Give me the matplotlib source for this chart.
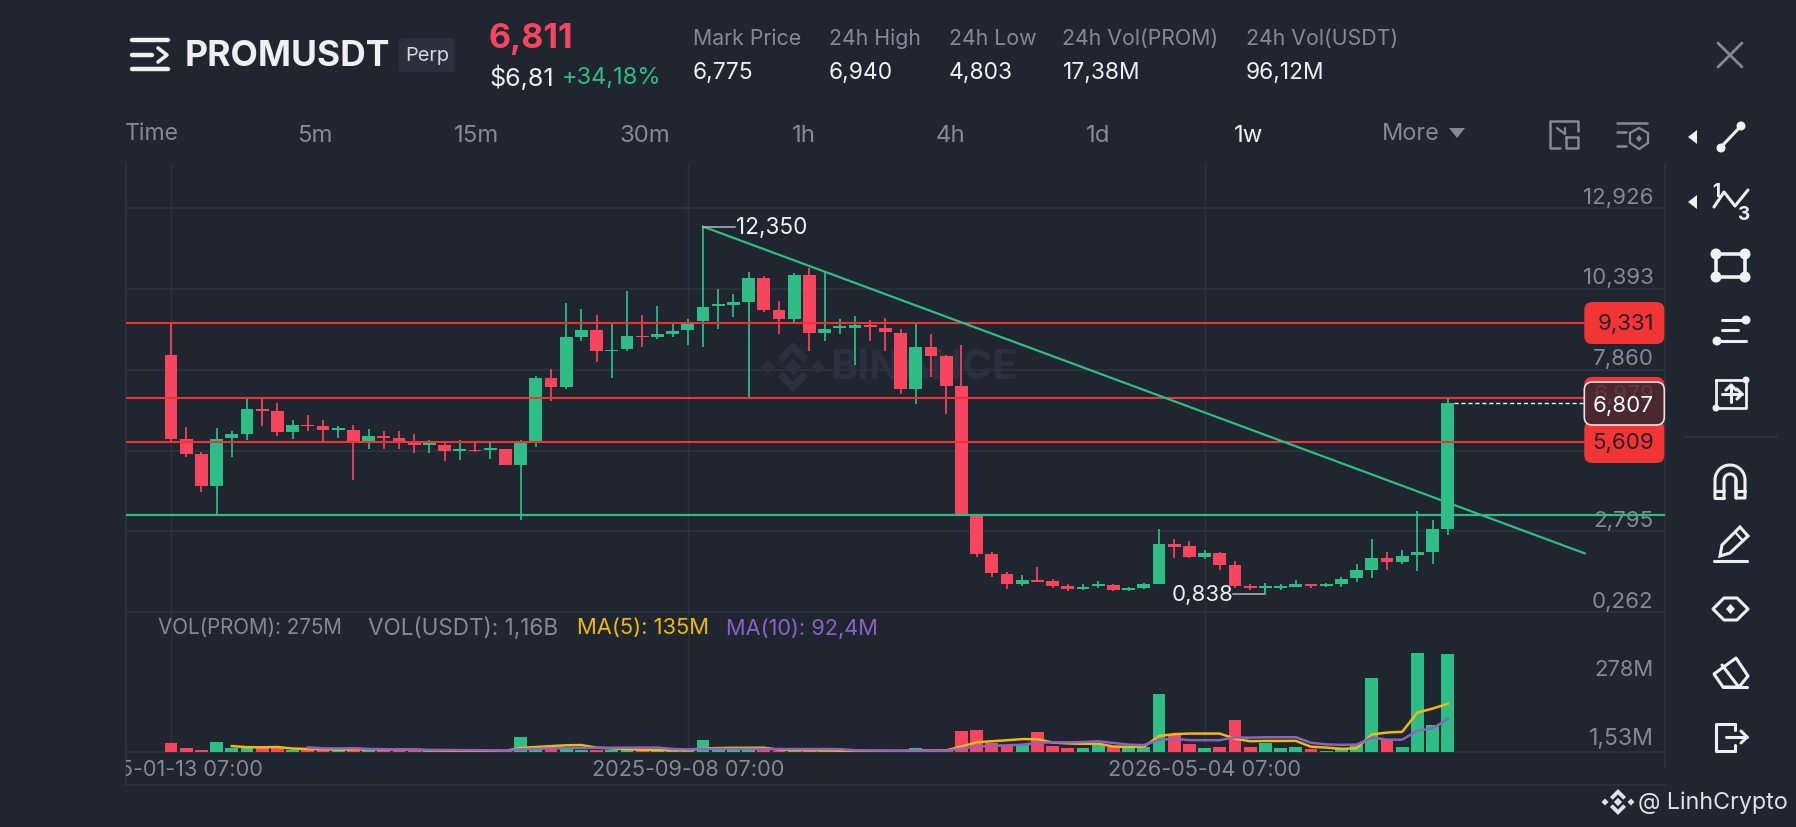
import numpy as np
import matplotlib
matplotlib.use("Agg")
import matplotlib.pyplot as plt
from matplotlib.patches import FancyBboxPatch, Polygon, Circle
from matplotlib.lines import Line2D

plt.rcParams['font.family'] = ['Inter', 'Noto Sans', 'DejaVu Sans']

W, H = 1796, 828
BG = '#1f2630'; GRID = '#2c323d'; GREEN = '#2ebd85'; RED = '#f8455f'; LINE_RED = '#f03434'
GRAY = '#858b96'; WHITE = '#eef0f2'; YELLOW = '#f0b90b'; PURPLE = '#8a63c4'

# ---- data ----
opens = [8.31,5.69,5.21,4.23,5.71,5.84,6.62,6.56,5.91,6.14,6.10,5.97,5.98,5.63,5.79,5.71,5.58,5.51,5.50,5.32,5.36,5.35,5.37,4.88,5.61,7.59,
         7.32,8.89,9.12,8.44,8.50,8.93,8.88,8.98,9.11,9.38,9.85,9.89,10.00,10.75,9.73,9.44,10.84,9.03,9.16,9.18,9.25,9.17,9.03,7.25,
         8.57,8.29,7.34,3.29,2.08,1.47,1.15,1.27,1.24,1.09,0.98,1.08,1.11,0.96,1.02,1.15,2.40,
         2.35,2.00,2.11,1.73,1.10,1.03,1.02,1.07,1.14,1.09,1.14,1.33,1.60,1.97,1.84,2.06,2.14,2.87]
highs = [9.32,6.07,5.28,6.03,5.94,6.94,6.97,6.81,6.30,6.45,6.30,6.10,6.13,6.02,5.94,5.95,5.84,5.67,5.58,5.67,5.58,5.57,5.39,5.66,7.67,7.88,
         9.97,9.77,9.58,9.37,10.34,9.58,9.85,9.36,9.45,12.35,10.40,10.23,10.92,10.80,10.02,10.91,11.06,10.94,9.46,9.54,9.43,9.50,9.13,9.29,
         8.98,8.33,8.63,3.29,2.15,1.53,1.44,1.67,1.30,1.16,1.16,1.23,1.16,1.04,1.19,2.87,2.57,
         2.51,2.20,2.15,1.88,1.14,1.17,1.14,1.27,1.15,1.17,1.36,1.78,2.57,2.16,2.20,3.45,3.15,6.94]
lows = [5.61,5.12,4.02,3.34,5.12,5.66,6.11,5.80,5.69,5.94,5.61,5.72,4.42,5.38,5.37,5.37,5.25,5.25,4.99,5.04,5.27,5.07,4.88,3.16,5.45,6.88,
        7.26,8.77,8.10,7.62,8.46,8.57,8.82,8.88,8.64,8.57,9.14,9.51,7.02,9.66,8.97,9.36,8.46,8.76,8.97,8.01,8.76,8.45,7.11,6.80,
        7.64,6.47,3.32,2.01,1.38,1.00,1.10,1.21,1.03,0.94,0.97,1.01,0.93,0.92,0.99,1.14,1.96,
        1.97,1.93,1.60,1.03,0.97,0.84,0.96,1.06,1.01,1.07,1.07,1.21,1.33,1.59,1.78,1.57,1.79,2.68]
closes = [5.70,5.22,4.23,5.69,5.84,6.62,6.56,5.91,6.14,6.09,5.97,6.03,5.61,5.79,5.72,5.63,5.51,5.57,5.31,5.37,5.31,5.41,4.88,5.58,7.59,7.32,
          8.88,9.12,8.45,8.49,8.93,8.88,8.98,9.09,9.37,9.84,9.91,9.99,10.74,9.74,9.44,10.84,9.03,9.15,9.22,9.25,9.19,9.05,7.25,8.57,
          8.29,7.35,3.32,2.09,1.48,1.16,1.27,1.21,1.09,0.98,1.07,1.14,0.95,1.01,1.14,2.40,2.32,
          2.00,2.11,1.74,1.10,1.02,1.09,1.09,1.14,1.08,1.14,1.32,1.59,1.96,1.85,2.04,2.14,2.86,6.81]
volumes = [25,12,5.6,29,11,10,10,10,7,5.6,5.6,5.6,13,7,5,4.2,3.4,3.4,3.4,2.8,2.8,2.8,4.2,43,17,15,15,7,7,5.6,5.6,4.8,4.2,4.2,4.2,34,8.4,7,5.6,5.6,
           4.2,4.2,4.2,4.2,2.8,2.8,2.8,2.8,3.4,10,3.4,3.4,58,61,25,17,20,55,16,12,12,22,14,12,13,163,48,22,12,13,90,14,26,12,14,7.6,2,9.2,19,208,34,13,278,75,275]
ma5 = [16.5,13.5,13.1,14,9.6,8.5,7.6,6.8,7.4,7.4,7.2,7,6.5,4.6,3.9,3.4,3.2,3,3.2,11.1,14,16.4,18.8,19.4,12.2,9.9,8,6,5.4,4.9,4.6,10.3,11,11.6,11.8,12.1,
       6.2,5.3,4.8,4.5,3.9,3.6,3.4,3.1,2.9,4.4,4.5,4.5,15.6,27.2,30.2,32.9,36.2,35.6,26.6,24,23,23.4,15.2,14.4,14.6,44.8,50,51.6,51.6,51.6,37,30.2,31,31,31.2,
       14.7,12.3,9,10.4,49.2,54.4,56.6,110.4,121.6,135]
ma10 = [12.5,10.6,10,10.7,8.5,7.9,7.3,6.7,6,5.7,5.3,5.1,4.8,3.9,7.5,8.7,9.8,10.9,11.3,11.7,12,12.2,12.4,12.4,8.6,7.3,9.2,8.5,8.5,8.4,8.4,8.3,8.2,8.2,8.2,8,
        4.9,4.4,4,3.7,4.2,4.1,4,9.4,15,17.3,18.7,20.4,25.6,26.9,27.1,28,29.8,25.4,20.5,19.3,33.9,36.7,33.4,33,33.1,40.9,40.1,41.3,41.3,41.4,25.9,21.3,20,20.7,40.2,34.6,34.5,59.7,66,92.4]
ma5_start, ma10_start = 4, 9

price_ticks = [12.926, 10.393, 7.860, 5.327, 2.795, 0.262]
price_labels = ['12,926', '10,393', '7,860', '', '2,795', '0,262']
red_levels = [9.331, 6.979, 5.609]
red_labels = ['9,331', '6,979', '5,609']
green_level = 3.32
trend_idx = [35, 93]
trend_price = [12.35, 2.11]
last_price, last_label = 6.807, '6,807'
date_idx = [0, 34, 68]
date_labels = ['2025-01-13 07:00', '2025-09-08 07:00', '2026-05-04 07:00']
vol_labels = ['278M', '1,53M']
stat_names = ['Mark Price', '24h High', '24h Low', '24h Vol(PROM)', '24h Vol(USDT)']
stat_values = ['6,775', '6,940', '4,803', '17,38M', '96,12M']
tabs = ['5m', '15m', '30m', '1h', '4h', '1d', '1w']

# ---- layout helpers ----
SHIFT = 1
L, R, T, B_P, B_V, B_T = 125.7, 1664.6, 164+SHIFT, 612.3+SHIFT, 752+SHIFT, 785+SHIFT
XL, XR = (L-171)/15.2, (R-171)/15.2
YB, YT = 0.262, 0.262 + (B_P-T)*0.031338
def px_axes(l, t, r, b, z):
    a = fig.add_axes([l/W, 1-b/H, (r-l)/W, (b-t)/H], zorder=z)
    a.patch.set_alpha(0)
    return a
fs = lambda px: px*0.72

fig = plt.figure(figsize=(W/100, H/100), dpi=100, facecolor=BG)
bg = px_axes(0, 0, W, H, 0); bg.set_xlim(0, W); bg.set_ylim(H, 0); bg.axis('off')
top = px_axes(0, 0, W, H, 5); top.set_xlim(0, W); top.set_ylim(H-SHIFT, -SHIFT); top.axis('off')
ax = px_axes(L, T, R, B_P, 2)
av = px_axes(L, B_P, R, B_V, 2)
at = px_axes(L, B_V, R, B_T, 2)
for a in (ax, av, at):
    a.set_xlim(XL, XR); a.set_xticks([]); a.set_yticks([])
    for s in a.spines.values(): s.set_visible(False)
ax.set_ylim(YB, YT)
av.set_ylim(0, (B_V-B_P)*2.8)
at.set_ylim(0, 1)

# ---- frame, grid ----
bg.plot([L, L], [T, B_T], color=GRID, lw=1.4)
bg.plot([R, R], [T, 767], color=GRID, lw=1.4)
bg.plot([L, R], [B_V, B_V], color=GRID, lw=1.4)
bg.plot([L, R], [B_T, B_T], color=GRID, lw=1.4)
for p in price_ticks:
    ax.axhline(p, color=GRID, lw=1.4, zorder=1, clip_on=False)
for a in (ax, av):
    for d in date_idx:
        a.axvline(d, color=GRID, lw=1.0, zorder=1)

# watermark
BM = '#2a313c'
def bn_logo(a, cx, cy, r, col, z=1):
    s = r*0.27
    a.add_patch(Polygon([(cx, cy-r*0.32), (cx+r*0.32, cy), (cx, cy+r*0.32), (cx-r*0.32, cy)], fc=col, ec='none', zorder=z))
    for dx in (-1, 1):
        a.add_patch(Polygon([(cx+dx*r, cy-s), (cx+dx*(r+s), cy), (cx+dx*r, cy+s), (cx+dx*(r-s), cy)], fc=col, ec='none', zorder=z))
    for sy in (-1, 1):
        a.add_patch(Polygon([(cx, cy+sy*r), (cx+r*0.62, cy+sy*r*0.38), (cx+r*0.40, cy+sy*r*0.18), (cx, cy+sy*r*0.58),
                             (cx-r*0.40, cy+sy*r*0.18), (cx-r*0.62, cy+sy*r*0.38)], fc=col, ec='none', zorder=z))
bn_logo(bg, 793, 368, 25, BM)
bg.text(830, 368, 'BINANCE', color=BM, fontsize=fs(41), fontweight='bold', va='center', ha='left')

# ---- candles ----
x = np.arange(len(opens))
o, h, l, c = map(np.array, (opens, highs, lows, closes))
cols = [GREEN if cc >= oo else RED for oo, cc in zip(o, c)]
ax.vlines(x, l, h, colors=cols, lw=1.25, zorder=3)
ax.bar(x, np.abs(c-o), bottom=np.minimum(o, c), width=0.84, color=cols, linewidth=0, zorder=3)

# levels
for lv in red_levels:
    ax.plot([XL, trend_idx[1]], [lv, lv], color=LINE_RED, lw=1.5, zorder=4)
ax.plot([XL, XR], [green_level, green_level], color=GREEN, lw=1.6, zorder=4)
ax.plot(trend_idx, trend_price, color=GREEN, lw=1.6, zorder=4)
ax.plot([x[-1]+0.4, trend_idx[1]], [last_price, last_price], color=WHITE, lw=1, ls=(0, (3, 2)), zorder=4)

# price tick labels
for p, s in zip(price_ticks, price_labels):
    if s:
        ax.annotate(s, xy=(1, p), xycoords=('axes fraction', 'data'), xytext=(-7.9, 8.3), textcoords='offset points',
                    ha='right', va='center', color=GRAY, fontsize=fs(22.3), zorder=2, annotation_clip=False)

# extreme labels
ih, il = int(np.argmax(h)), int(np.argmin(l))
ax.plot([ih, ih+2.1], [h[ih], h[ih]], color='#b4b8bf', lw=1.1, zorder=5)
ax.annotate('12,350', xy=(ih+2.2, h[ih]), ha='left', va='center', color=WHITE, fontsize=fs(22.6), zorder=6)
ax.plot([il, il, il-2.1], [c[il], l[il], l[il]], color='#b4b8bf', lw=1.1, zorder=2.5)
ax.annotate('0,838', xy=(il-2.1, l[il]), ha='right', va='center', color=WHITE, fontsize=fs(22.3), zorder=6, annotation_clip=False)

# ---- volume ----
av.bar(x, volumes, width=0.84, color=cols, linewidth=0, zorder=2)
av.plot(x[ma5_start:], ma5, color=YELLOW, lw=1.8, zorder=3)
av.plot(x[ma10_start:], ma10, color=PURPLE, lw=1.8, zorder=4)
top.text(1654, 669, vol_labels[0], ha='right', va='center', color=GRAY, fontsize=fs(22))
top.text(1654, 738, vol_labels[1], ha='right', va='center', color=GRAY, fontsize=fs(23))
vy = 627.5
for xx, s, col, sz in [(158, 'VOL(PROM): 275M', GRAY, 20.6), (368.5, 'VOL(USDT): 1,16B', GRAY, 22.5), (577, 'MA(5): 135M', YELLOW, 22), (726, 'MA(10): 92,4M', PURPLE, 21.8)]:
    top.text(xx, vy, s, ha='left', va='center', color=col, fontsize=fs(sz))

# dates (clipped at the left edge of the pane)
for d, s in zip(date_idx, date_labels):
    at.text(d, 0.47, s, ha='center', va='center', color=GRAY, fontsize=fs(21.7), clip_on=True)

# ---- price boxes ----
def box(y0, y1, fc, ec='none', lw=0):
    top.add_patch(FancyBboxPatch((1584.3+7, y0+7), 80-14, y1-y0-14, boxstyle='round,pad=7,rounding_size=8', fc=fc, ec=ec, lw=lw, zorder=2))
box(302, 344, '#f13535')
top.text(1654, 323.5, red_labels[0], ha='right', va='center', color='#2a1f28', fontsize=fs(22.3), zorder=3)
box(377, 420, '#f13535')
box(421, 463, '#f13535')
top.text(1654, 442.5, red_labels[2], ha='right', va='center', color='#2a1f28', fontsize=fs(22.3), zorder=3)
box(382, 425, '#4b2730', ec='#e8e2e4', lw=1.2)
top.text(1654, 394, red_labels[1], ha='right', va='center', color='#5b3a42', fontsize=fs(22.3), zorder=3)
top.text(1654, 405.5, last_label, ha='right', va='center', color='#ffffff', fontsize=fs(22.3), zorder=4)

# ---- header ----
def ln(xs, ys, col=WHITE, lw=2.2, z=3):
    top.add_line(Line2D(xs, ys, color=col, lw=lw, solid_capstyle='round', solid_joinstyle='round', zorder=z))
ln([132, 168], [40, 40], lw=3.2); ln([132, 152], [55, 55], lw=3.2); ln([132, 168], [69, 69], lw=3.2)
ln([158, 167, 158], [48, 55, 62], lw=2.6)
top.text(185, 55, 'PROMUSDT', color=WHITE, fontsize=fs(35.5), fontweight='bold', va='center', ha='left')
top.add_patch(FancyBboxPatch((405, 44), 44, 22, boxstyle='round,pad=6,rounding_size=4', fc='#2b313c', ec='none'))
top.text(427, 55, 'Perp', color='#d5d8dc', fontsize=fs(20), va='center', ha='center', zorder=3)
top.text(489, 38, '6,811', color=RED, fontsize=fs(34), fontweight='bold', va='center', ha='left')
top.text(489, 77, '$6,81', color=WHITE, fontsize=fs(25), va='center', ha='left')
top.text(562, 77, '+34,18%', color=GREEN, fontsize=fs(23.6), va='center', ha='left')
for xx, a_, b_ in zip([693, 829, 949, 1062.5, 1246], stat_names, stat_values):
    top.text(xx, 38, a_, color=GRAY, fontsize=fs(21.3), va='center', ha='left')
    top.text(xx, 72, b_, color=WHITE, fontsize=fs(22.8), va='center', ha='left')
ln([1718, 1742], [43, 67], col=GRAY, lw=2); ln([1742, 1718], [43, 67], col=GRAY, lw=2)

# tabs
top.text(125, 133, 'Time', color=GRAY, fontsize=fs(23), va='center', ha='left')
for xx, s in zip([314.6, 476.5, 644.7, 803.7, 950.5, 1098, 1248.5], tabs):
    top.text(xx, 135, s, color=WHITE if s == '1w' else GRAY, fontsize=fs(24), va='center', ha='center')
top.text(1382, 133, 'More', color=GRAY, fontsize=fs(23.5), va='center', ha='left')
top.add_patch(Polygon([(1449, 128), (1465, 128), (1457, 138)], fc=GRAY, ec='none'))

# small icons row
def rect(x0, y0, x1, y1, col=GRAY, lw=2):
    ln([x0, x1, x1, x0, x0], [y0, y0, y1, y1, y0], col=col, lw=lw)
ln([1565, 1550, 1550, 1560], [121, 121, 148, 148], col=GRAY, lw=1.8)
ln([1565, 1578, 1578], [121, 121, 131], col=GRAY, lw=1.8)
rect(1566, 137, 1578, 148, lw=1.8)
ln([1557, 1565, 1565], [128, 134, 128], col=GRAY, lw=1.6)
ln([1617, 1647], [123, 123], col=GRAY, lw=1.8)
ln([1617, 1626], [132, 132], col=GRAY, lw=1.8); ln([1617, 1626], [146, 146], col=GRAY, lw=1.8)
top.add_patch(Polygon([(1639, 128), (1648, 133), (1648, 143), (1639, 149), (1630, 143), (1630, 133)], fc='none', ec=GRAY, lw=1.6))
top.add_patch(Polygon([(1639, 135), (1642, 138.5), (1639, 142), (1636, 138.5)], fc=GRAY, ec='none'))

# ---- right toolbar ----
def dot(cx, cy, r=4.5):
    top.add_patch(Circle((cx, cy), r, fc=WHITE, ec='none', zorder=4))
for yy in (137, 202):
    top.add_patch(Polygon([(1697, yy-7), (1697, yy+7), (1688, yy)], fc=WHITE, ec='none'))
ln([1721, 1741], [147, 126]); dot(1721, 148); dot(1741, 126)
top.text(1716, 191, '1', color=WHITE, fontsize=fs(19), fontweight='bold', ha='center', va='center')
top.text(1743, 214, '3', color=WHITE, fontsize=fs(19), fontweight='bold', ha='center', va='center')
ln([1714, 1724, 1735, 1748], [207, 192, 206, 190])
rect(1716, 254, 1745, 277, col=WHITE, lw=2.6)
for cx, cy in [(1716, 254), (1745, 254), (1716, 277), (1745, 277)]:
    dot(cx, cy, 5.5)
ln([1722, 1745], [320, 320]); dot(1746, 320)
ln([1722, 1738], [330, 330])
ln([1716, 1746], [341, 341]); dot(1717, 341)
rect(1716, 380, 1746, 408, col=WHITE); dot(1746, 380, 3.5); dot(1716, 408, 3.5)
ln([1731, 1731], [385, 402]); ln([1726, 1731, 1736], [390, 385, 390])
ln([1722, 1742], [394, 394]); ln([1737, 1742, 1737], [389, 394, 399])
top.plot([1684, 1777], [437, 437], color=GRID, lw=1.5)
ang = np.linspace(np.pi, 2*np.pi, 30)
ln(np.r_[1715, 1730+15*np.cos(ang), 1745, 1745, 1736, 1736], np.r_[498, 480+15*np.sin(ang), 498, 498, 498, 480])
ln(np.r_[1724, 1730+6*np.cos(ang), 1736], np.r_[498, 480+6*np.sin(ang), 498])
ln([1715, 1724], [498, 498]); ln([1715, 1724], [491, 491]); ln([1736, 1745], [491, 491])
top.add_patch(Polygon([(1740, 527), (1748, 536), (1730, 553), (1720, 556), (1722, 545)], fc='none', ec=WHITE, lw=2.2))
ln([1735, 1743], [532, 541], lw=1.6)
ln([1714, 1747], [561, 561])
top.add_patch(Polygon([(1713, 609), (1724, 598), (1737, 598), (1748, 609), (1737, 620), (1724, 620)], fc='none', ec=WHITE, lw=2.2, joinstyle='round'))
top.add_patch(Polygon([(1730.5, 604), (1735, 609), (1730.5, 614), (1726, 609)], fc=WHITE, ec='none'))
top.add_patch(Polygon([(1736, 658), (1748, 676), (1739, 687), (1723, 687), (1714, 674)], fc='none', ec=WHITE, lw=2.2, joinstyle='round'))
ln([1722, 1738], [665, 686]); ln([1723, 1747], [687, 687])
ln([1735, 1716, 1716, 1735], [724, 724, 751, 751]); ln([1735, 1735], [724, 730]); ln([1735, 1735], [745, 751])
ln([1726, 1747], [737, 737]); ln([1741, 1747, 1741], [731, 737, 743])

# footer
bn_logo(top, 1618, 802, 13, '#dfe2e5')
top.text(1638, 802, '@ LinhCrypto', color='#dfe2e5', fontsize=fs(23.3), va='center', ha='left')

fig.savefig('out.png', dpi=100, facecolor=BG)
